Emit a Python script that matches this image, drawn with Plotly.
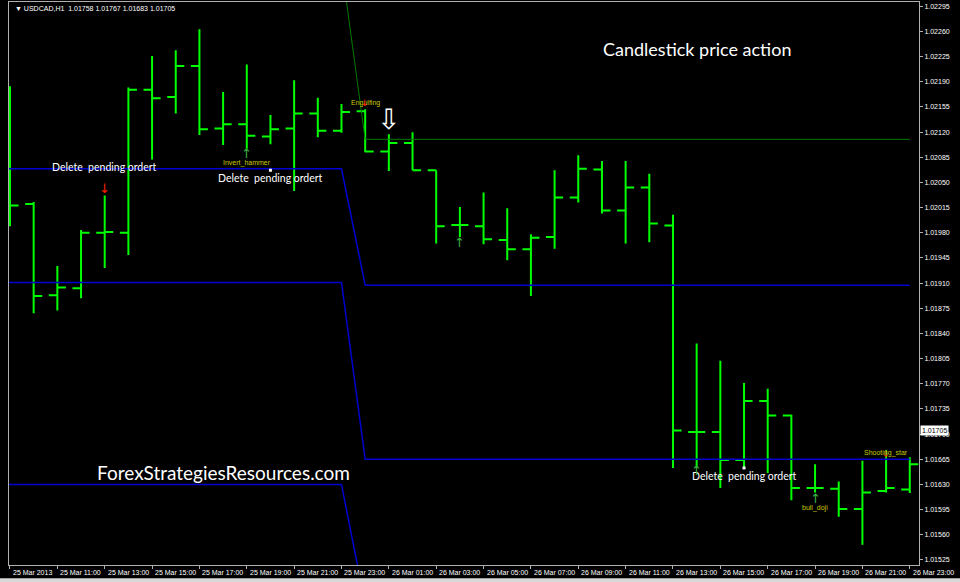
import plotly.graph_objects as go

# hourly bars, 25 Mar 2013 09:00 .. 26 Mar 2013 23:00
bar_index = list(range(39))
open_px = [1.02025, 1.02020, 1.01893, 1.01903, 1.01980, 1.01980, 1.02179, 1.02169, 1.02212, 1.02125,
           1.02131, 1.02114, 1.02125, 1.02146, 1.02122, 1.02149, 1.02093, 1.02105, 1.02067, 1.01991,
           1.01989, 1.01970, 1.01957, 1.01974, 1.02029, 1.02068, 1.02011, 1.02043, 1.01990, 1.01703,
           1.01703, 1.01664, 1.01746, 1.01726, 1.01625, 1.01624, 1.01596, 1.01621, 1.01623]
high_px = [1.02184, 1.02023, 1.01934, 1.01984, 1.02032, 1.02182, 1.02226, 1.02234, 1.02263, 1.02176,
           1.02214, 1.02144, 1.02192, 1.02168, 1.02159, 1.02152, 1.02117, 1.02120, 1.02067, 1.02016,
           1.02036, 1.02014, 1.01978, 1.02067, 1.02088, 1.02080, 1.02080, 1.02062, 1.02005, 1.01826,
           1.01802, 1.01771, 1.01763, 1.01727, 1.01658, 1.01634, 1.01663, 1.01678, 1.01668]
low_px = [1.01989, 1.01868, 1.01872, 1.01889, 1.01931, 1.01949, 1.02082, 1.02146, 1.02116, 1.02102,
          1.02097, 1.02103, 1.02038, 1.02113, 1.02119, 1.02092, 1.02066, 1.02067, 1.01965, 1.01974,
          1.01964, 1.01942, 1.01892, 1.01958, 1.02022, 1.02007, 1.01965, 1.01967, 1.01653, 1.01654,
          1.01625, 1.01652, 1.01646, 1.01608, 1.01619, 1.01585, 1.01546, 1.01619, 1.01618]
close_px = [1.02018, 1.01892, 1.01904, 1.01980, 1.01981, 1.02179, 1.02167, 1.02212, 1.02124, 1.02131,
            1.02115, 1.02124, 1.02146, 1.02122, 1.02148, 1.02093, 1.02105, 1.02067, 1.01989, 1.01991,
            1.01971, 1.01957, 1.01973, 1.02029, 1.02069, 1.02011, 1.02043, 1.01993, 1.01705, 1.01703,
            1.01664, 1.01746, 1.01726, 1.01625, 1.01625, 1.01596, 1.01619, 1.01625, 1.01658]

time_ticks = [0, 2, 4, 6, 8, 10, 12, 14, 16, 18, 20, 22, 24, 26, 28, 30, 32, 34, 36, 38]
time_labels = ["25 Mar 2013", "25 Mar 11:00", "25 Mar 13:00", "25 Mar 15:00", "25 Mar 17:00",
               "25 Mar 19:00", "25 Mar 21:00", "25 Mar 23:00", "26 Mar 01:00", "26 Mar 03:00",
               "26 Mar 05:00", "26 Mar 07:00", "26 Mar 09:00", "26 Mar 11:00", "26 Mar 13:00",
               "26 Mar 15:00", "26 Mar 17:00", "26 Mar 19:00", "26 Mar 21:00", "26 Mar 23:00"]
price_ticks = [1.01525, 1.01560, 1.01595, 1.01630, 1.01665, 1.01700, 1.01735, 1.01770, 1.01805,
               1.01840, 1.01875, 1.01910, 1.01945, 1.01980, 1.02015, 1.02050, 1.02085, 1.02120,
               1.02155, 1.02190, 1.02225, 1.02260, 1.02295]

# pending order levels (step at 25 Mar 23:00 -> 26 Mar 00:00)
level_x = [-1, 14, 15, 38]
level_upper = [1.02069, 1.02069, 1.01907, 1.01907]
level_mid = [1.01911, 1.01911, 1.01665, 1.01665]
level_low = [1.01630, 1.01630, 1.01464, 1.01464]
green_x = [14, 15, 38]
green_level = [1.02352, 1.02110, 1.02110]

# pattern markers: (bar, price)
pattern_labels = [("Invert_hammer", 10, 1.02077), ("Engulfing", 15, 1.02161),
                  ("bull_doji", 34, 1.01597), ("Shooting_star", 37, 1.01674)]
up_arrows = [(10, 1.02091), (19, 1.01967), (29, 1.01649), (34, 1.01611)]
red_arrows = [(4, 1.02042, 13), (15, 1.02160, 9), (37, 1.01672, 9)]
delete_notes = [(4, 1.02071), (11, 1.02056), (31, 1.01642)]
dot_x = [11, 31]
dot_y = [1.02067, 1.01653]

fig = go.Figure()

for lv in [level_upper, level_mid, level_low]:
    fig.add_trace(go.Scatter(x=level_x, y=lv, mode='lines',
                             line=dict(color='#0000D0', width=1.5), hoverinfo='skip'))
fig.add_trace(go.Scatter(x=green_x, y=green_level, mode='lines',
                         line=dict(color='#007A00', width=1), hoverinfo='skip'))

fig.add_trace(go.Ohlc(
    x=bar_index, open=open_px, high=high_px, low=low_px, close=close_px,
    increasing_line_color='#00FF00', decreasing_line_color='#00FF00',
    line=dict(width=2), tickwidth=0.36
))

fig.add_trace(go.Scatter(x=dot_x, y=dot_y, mode='markers',
                         marker=dict(symbol='square', size=3, color='white'), hoverinfo='skip'))

fig.update_layout(
    width=960, height=582,
    margin=dict(l=9, r=41, t=2, b=17),
    paper_bgcolor='black', plot_bgcolor='black',
    showlegend=False,
    xaxis=dict(range=[-0.042, 38.39], rangeslider=dict(visible=False),
               showgrid=False, zeroline=False, showline=True, mirror=True,
               linecolor='#B0B0B0', linewidth=1,
               tickvals=time_ticks, showticklabels=False,
               ticks='outside', ticklen=3, tickcolor='#B0B0B0'),
    yaxis=dict(range=[1.01518, 1.02301], side='right',
               showgrid=False, zeroline=False, showline=True, mirror=True,
               linecolor='#B0B0B0', linewidth=1,
               tickvals=price_ticks, ticktext=[f"{v:.5f}" for v in price_ticks],
               ticks='outside', ticklen=3, tickcolor='#B0B0B0',
               tickfont=dict(family='Liberation Sans', size=7, color='white')),
)

small = dict(family='Liberation Sans', size=7, color='white')
casual = 'Comic Sans MS, Lato, sans-serif'

for t, lab in zip(time_ticks, time_labels):
    fig.add_annotation(x=t, y=-0.0125, xref='x', yref='paper', text=lab, showarrow=False,
                       xanchor='left', yanchor='middle', xshift=1, font=small)

fig.add_annotation(x=0.004, y=0.989, xref='paper', yref='paper',
                   text="▼ USDCAD,H1  1.01758 1.01767 1.01683 1.01705", showarrow=False,
                   xanchor='left', yanchor='middle', font=small)

fig.add_annotation(x=1, y=1.01705, xref='paper', yref='y', text="1.01705", showarrow=False,
                   xanchor='left', yanchor='middle', xshift=1, bgcolor='white', borderpad=1,
                   font=dict(family='Liberation Sans', size=7, color='black'))

fig.add_annotation(x=29, y=1.02235, text="Candlestick price action", showarrow=False,
                   font=dict(family=casual, size=18, color='white'))
fig.add_annotation(x=9, y=1.01647, text="ForexStrategiesResources.com", showarrow=False,
                   font=dict(family=casual, size=19, color='white'))

for bx, py in delete_notes:
    fig.add_annotation(x=bx, y=py, text="Delete  pending ordert", showarrow=False,
                       font=dict(family=casual, size=10.5, color='white'))

for lab, bx, py in pattern_labels:
    fig.add_annotation(x=bx, y=py, text=lab, showarrow=False,
                       font=dict(family='Liberation Sans', size=7, color='#C8C800'))

for bx, py in up_arrows:
    fig.add_annotation(x=bx, y=py, text="↑", showarrow=False,
                       font=dict(family='DejaVu Sans', size=13, color='#3CB043'))

for bx, py, sz in red_arrows:
    fig.add_annotation(x=bx, y=py, text="↓", showarrow=False,
                       font=dict(family='DejaVu Sans', size=sz, color='#FF2000'))

fig.add_annotation(x=16, y=1.02137, text="⇩", showarrow=False,
                   font=dict(family='DejaVu Sans', size=28, color='white'))

# terminal tab strip under the chart
fig.add_shape(type='rect', xref='paper', yref='paper', x0=-0.01, x1=1.046, y0=-0.031, y1=-0.0235,
              fillcolor='#D8D8D8', line=dict(width=0))

# page body margin would shift the chart; drop it
fig.write_html("out.html", config={'displayModeBar': False},
               post_script="document.body.style.margin='0';")
